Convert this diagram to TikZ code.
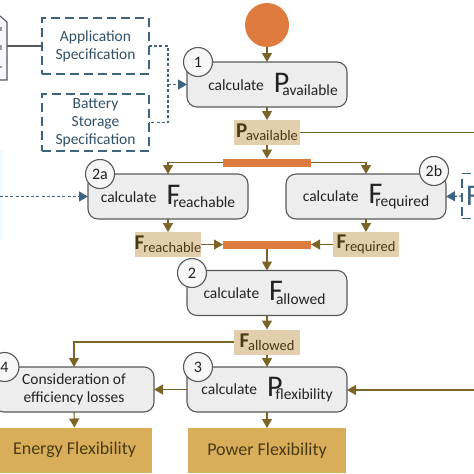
\documentclass[tikz,border=0pt]{standalone}
\usepackage{fontspec}
\setmainfont{Carlito}
\usetikzlibrary{arrows.meta}
\definecolor{brn}{HTML}{7A6428}
\definecolor{org}{HTML}{E07B3F}
\definecolor{bgy}{HTML}{3F6480}
\definecolor{edg}{HTML}{595959}
\definecolor{tan}{HTML}{E3CFAE}
\definecolor{gld}{HTML}{D9AE5B}
\definecolor{dtx}{HTML}{4A3A14}
\definecolor{gtx}{HTML}{222222}
\newcommand{\fs}[1]{\fontsize{#1}{18}\selectfont}
% calculate + big letter + subscript
\newcommand{\calcq}[2]{\fs{15.5}calculate\hspace{10pt}\raisebox{-2pt}{\fs{30}#1}\hspace{-7pt}\raisebox{-5.5pt}{\fs{15.5}#2}}
% label: letter + subscript
\newcommand{\qlab}[2]{\raisebox{0pt}{\fs{21}\textbf{#1}}\hspace{-1pt}\raisebox{-3pt}{\fs{14.5}#2}}
\tikzset{
  x=1pt,y=-1pt,
  procbox/.style={draw=edg,fill=black!7,line width=1.1pt,rounded corners=10pt,minimum width=160pt,minimum height=45pt,inner sep=0pt,outer sep=0pt,text=gtx},
  numc/.style={circle,draw=edg,fill=black!3,line width=1.1pt,minimum size=29pt,inner sep=0pt,outer sep=0pt,text=gtx,font=\fs{16}},
  qlabel/.style={fill=tan,minimum width=66pt,minimum height=25pt,inner sep=0pt,outer sep=0pt,text=dtx},
  bar/.style={fill=org,minimum width=88pt,minimum height=8pt,inner sep=0pt,outer sep=0pt},
  result/.style={fill=gld,minimum height=45pt,inner sep=0pt,outer sep=0pt,text=dtx,font=\fs{18}},
  spec/.style={draw=bgy,line width=1.1pt,dash pattern=on 9pt off 5pt,minimum width=107pt,inner sep=0pt,outer sep=0pt,align=center,text=bgy!80!black,font=\fs{15.5}},
  flow/.style={draw=brn,line width=1.1pt,-{Triangle[length=9pt,width=10pt]}},
  flowline/.style={draw=brn,line width=1.1pt},
  dotflow/.style={draw=bgy,line width=1.3pt,dash pattern=on 3pt off 2.2pt},
  dotarrow/.style={dotflow,-{Triangle[length=9pt,width=10pt,fill=bgy]}},
}
\begin{document}
\begin{tikzpicture}
\useasboundingbox (0,0) rectangle (474,474);
\clip (0,0) rectangle (474,474);
% faint left panel
\fill[blue!30!cyan!6] (0,150) rectangle (2.5,240);
% document icon
\draw[edg,line width=1.1pt,fill=blue!3] (-3,15) -- (0,16) -- (7,22) -- (7,80) -- (-3,80);
\fill[edg!60] (0,27) rectangle (2,31);
\fill[edg!60] (0,45) rectangle (2,50);
\fill[edg!60] (0,66) rectangle (2,68);
\coordinate (docr) at (7,46);
% nodes
\node[circle,fill=org,minimum size=44pt,inner sep=0pt,outer sep=0pt] (start) at (267,25) {};
\node[procbox] (b1) at (267,84.5) {\hspace*{12pt}\calcq{P}{available}};
\node[qlabel] (lp) at (267,132.5) {\qlab{P}{available}};
\node[bar] (bar1) at (267,162.5) {};
\node[procbox] (b2a) at (168,196.5) {\calcq{F}{reachable}};
\node[procbox] (b2b) at (366,196.5) {\calcq{F}{required}};
\node[qlabel] (lfr) at (168,244.5) {\qlab{F}{reachable}};
\node[qlabel] (lfq) at (366,244.5) {\qlab{F}{required}};
\node[bar] (bar2) at (267,244.5) {};
\node[procbox] (b2) at (267,293) {\hspace*{-5pt}\calcq{F}{allowed}};
\node[qlabel] (lfa) at (267,342) {\qlab{F}{allowed}};
\node[procbox] (b3) at (267,389.5) {\calcq{P}{flexibility}};
\node[procbox,align=center,font=\fs{15.5}] (b4) at (74,389.5) {Consideration of\\efficiency losses};
\node[result,minimum width=158pt] (rp) at (267,450.5) {Power Flexibility};
\node[result,minimum width=155pt] (re) at (74.5,450) {Energy Flexibility};
\node[spec,minimum height=56pt] (app) at (95.5,46) {Application\\Specification};
\node[spec,minimum height=57pt] (bat) at (95.5,122.5) {Battery\\Storage\\Specification};
\node[spec,minimum width=80pt,minimum height=45pt,text width=72pt,align=left,font=\fs{30},text=bgy] (fb) at (502,196) {F};
% free ends
\coordinate (pr) at (474,132.5);
\coordinate (fl) at (474,390);
\coordinate (dl) at (0,196.5);
\coordinate (j1) at (168,84.5);
% connectors
\draw[flow] (start) -- (b1);
\draw[flow] (b1) -- (lp);
\draw[flow] (lp) -- (bar1);
\draw[flow] (bar1.west) -| (b2a.north);
\draw[flow] (bar1.east) -| (b2b.north);
\draw[flow] (b2a.south) -- (lfr.north);
\draw[flow] (b2b.south) -- (lfq.north);
\draw[flow] (lfr) -- (bar2);
\draw[flow] (lfq) -- (bar2);
\draw[flow] (bar2) -- (b2);
\draw[flow] (b2) -- (lfa);
\draw[flow] (lfa) -- (b3);
\draw[flow] (lfa.west) -| (b4.north);
\draw[flow] (b3) -- (b4);
\draw[flow] (b3.south) -- (rp.north);
\draw[flow] (b4.south) -- (re.north);
\draw[flow] (fl) -- (b3.east |- fl);
\draw[flowline] (lp.east) -- (pr);
\draw[draw=edg,line width=1.1pt] (docr) -- (docr -| app.west);
\draw[dotflow] (app.east) -| (j1) |- (bat.east);
\draw[dotarrow] (j1) -- (b1.west);
\draw[dotarrow] (dl) -- (b2a.west);
\draw[dotarrow] (fb.west) -- (b2b.east);
% number circles
\node[numc] (n1) at (198,62) {1};
\node[numc] (n2a) at (100,174) {2a};
\node[numc] (n2b) at (434,171) {2b};
\node[numc] (n2) at (192,273) {2};
\node[numc] (n3) at (198,367) {3};
\node[numc] (n4) at (4.5,367) {4};
\end{tikzpicture}
\end{document}
